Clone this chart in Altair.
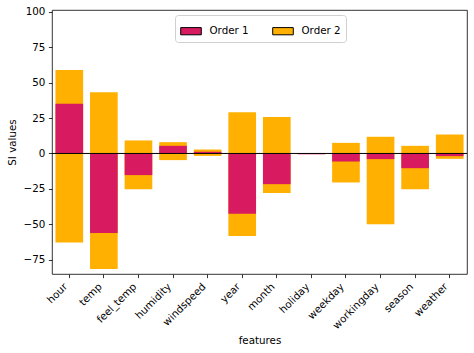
import altair as alt
import pandas as pd

features = ["hour", "temp", "feel_temp", "humidity", "windspeed", "year",
            "month", "holiday", "weekday", "workingday", "season", "weather"]
order1 = [35.1, -56.2, -15.3, 5.4, 1.2, -42.7, -21.7, -0.6, -5.7, -4.0, -10.4, -1.9]
order2_pos = [59.0, 43.2, 9.2, 8.0, 2.8, 29.2, 25.7, 0.3, 7.5, 11.8, 5.4, 13.4]
order2_neg = [-63.0, -81.7, -25.3, -4.7, -1.7, -58.3, -27.9, -0.3, -20.5, -50.0, -25.3, -3.8]
y_ticks = [-75, -50, -25, 0, 25, 50, 75, 100]

rows2 = []
for f, p, n in zip(features, order2_pos, order2_neg):
    rows2.append({"feature": f, "series": "Order 2", "value": p, "base": 0.0})
    rows2.append({"feature": f, "series": "Order 2", "value": n, "base": 0.0})
rows1 = [{"feature": f, "series": "Order 1", "value": v, "base": 0.0}
         for f, v in zip(features, order1)]
df2 = pd.DataFrame(rows2)
df1 = pd.DataFrame(rows1)
df0 = pd.DataFrame({"value": [0.0]})

FONT = "DejaVu Sans"
FS = 10.3

xenc = alt.X("feature:N", sort=features,
             scale=alt.Scale(paddingInner=0.2, paddingOuter=0.1),
             axis=alt.Axis(title="features", labelAngle=-45, labelAlign="right",
                           labelBaseline="top", labelOffset=-7, labelPadding=3.6,
                           labelOverlap=False, labelFlush=False, labelBound=False,
                           titleX=207.5, titleY=69.3, titleBaseline="alphabetic",
                           titleAnchor="middle"))
yscale = alt.Scale(domain=[-85.2, 101.4], nice=False, zero=False)
yaxis = alt.Axis(title="SI values", values=y_ticks,
                 grid=False, titleX=-36.5, titleY=132, titleAngle=-90,
                 titleAlign="center", titleBaseline="alphabetic",
                 labelPadding=3.6, labelOverlap=False, labelFlush=False,
                 labelBound=False)
yenc = alt.Y("value:Q", stack=None, scale=yscale, axis=yaxis)
color = alt.Color("series:N",
                  scale=alt.Scale(domain=["Order 1", "Order 2"], range=["#D81B60", "#FFB000"]),
                  legend=alt.Legend(title=None, orient="none", legendX=123, legendY=5,
                                    direction="horizontal",
                                    symbolType="M-1,-0.35H1V0.35H-1Z", symbolSize=424,
                                    symbolStrokeColor="black", symbolStrokeWidth=1,
                                    symbolOpacity=1,
                                    labelFont=FONT, labelFontSize=FS, labelColor="black",
                                    labelOffset=7.5, columnPadding=21, padding=5,
                                    strokeColor="#d0d0d0", fillColor="white",
                                    cornerRadius=3))

bars2 = alt.Chart(df2).mark_bar(opacity=1).encode(x=xenc, y=yenc, y2="base:Q", color=color)
bars1 = alt.Chart(df1).mark_bar(opacity=1).encode(x=xenc, y=yenc, y2="base:Q", color=color)
zero = alt.Chart(df0).mark_rule(color="black", strokeWidth=1).encode(y=yenc)

chart = alt.layer(bars2, bars1, zero).properties(
    width=415, height=264,
    background="white",
    autosize=alt.AutoSizeParams(type="none"),
    padding={"left": 52, "top": 10, "right": 7, "bottom": 79},
).configure_view(stroke="black", strokeWidth=0.8).configure_axis(
    labelFont=FONT, labelFontSize=FS, labelColor="black",
    titleFont=FONT, titleFontSize=FS, titleColor="black", titleFontWeight="normal",
    domain=False, tickColor="black", tickSize=3.6, tickWidth=0.8,
)

chart.save("out.html", embed_options={"renderer": "svg", "actions": False})
